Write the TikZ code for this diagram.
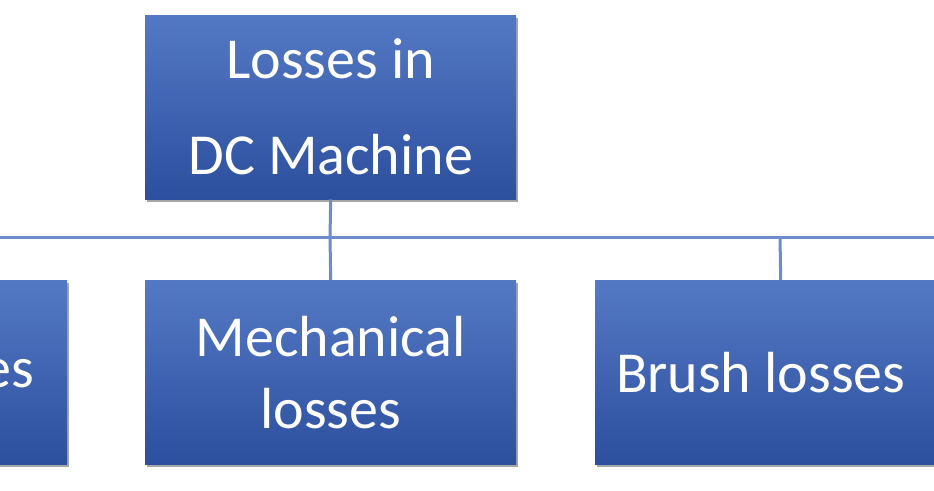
\documentclass[tikz,border=0pt]{standalone}
\usepackage{fontspec}
\setmainfont{Carlito}
\usetikzlibrary{shadows}
\definecolor{btop}{HTML}{5479C4}
\definecolor{bbot}{HTML}{2C4F9E}
\definecolor{lnk}{HTML}{6E8BCB}
\tikzset{
  bx/.style={minimum width=371pt, minimum height=184pt, top color=btop, bottom color=bbot,
    draw=none, text=white, font=\fontsize{58}{72}\selectfont, align=center, anchor=north west,
    drop shadow={shadow xshift=2pt, shadow yshift=-3pt, fill=black, opacity=0.35}},
  ln/.style={draw=lnk, line width=3pt}
}
\begin{document}
\begin{tikzpicture}[x=1pt,y=-1pt]
\useasboundingbox (0,0) rectangle (934,490);
\clip (0,0) rectangle (934,490);
\fill[white] (0,0) rectangle (934,490);
\coordinate (hl) at (-400,237);
\coordinate (hr) at (1300,237);
\coordinate (jm) at (330,237);
\coordinate (jr) at (780,237);
\draw[ln] (hl) -- (hr);
\node[bx, font=\fontsize{58}{96}\selectfont] (top) at (145,15) {Losses in\\DC Machine};
\node[bx] (left) at (-304,280) {\hspace*{-20pt}Copper losses};
\node[bx] (mid) at (145,280) {Mechanical\\losses};
\node[bx] (right) at (595,280) {Brush losses\hspace*{40pt}};
\draw[ln] (top.south) -- (jm) -- (mid.north);
\draw[ln] (jr) -- (right.north);
\draw[ln] (-118,237) -- (left.north);
\end{tikzpicture}
\end{document}
